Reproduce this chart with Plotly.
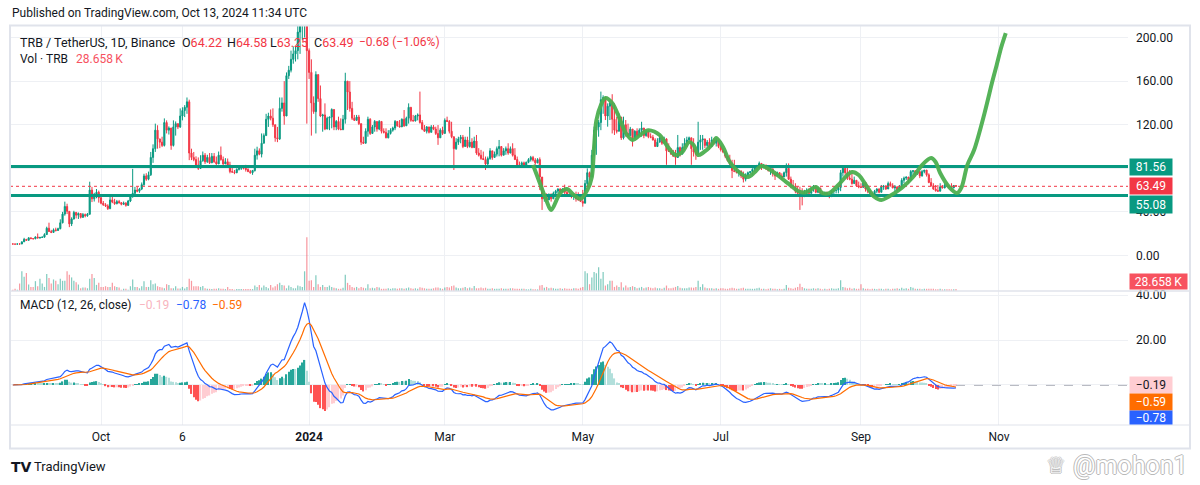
import plotly.graph_objects as go
import pandas as pd

# ---------------- data ----------------
start_date = "2023-08-23"
first_open = 10.6

closes = [
    10.5, 10.4, 10.6, 10.5, 12.5, 14.8, 13.9, 16.2, 15.5, 15.3,
    17.0, 16.0, 16.5, 16.8, 19.2, 25.0, 22.0, 21.2, 23.5, 23.0,
    24.6, 30.0, 38.0, 45.0, 40.5, 29.0, 33.5, 39.5, 37.0, 38.5,
    35.0, 37.5, 36.5, 37.8, 60.0, 52.0, 56.0, 58.0, 53.0, 48.0,
    46.5, 45.5, 43.0, 51.0, 49.0, 47.5, 49.5, 48.5, 47.0, 48.0,
    46.0, 50.0, 54.0, 57.0, 60.0, 59.0, 61.0, 65.0, 73.0, 70.0,
    74.0, 90.0, 98.0, 115.0, 107.0, 104.0, 101.0, 122.0, 115.0, 117.0,
    101.0, 118.0, 121.0, 118.0, 128.0, 133.0, 136.0, 141.0, 94.0, 90.0,
    88.0, 83.0, 80.0, 87.0, 92.0, 86.0, 90.0, 85.0, 91.0, 86.0,
    84.0, 92.0, 88.0, 84.0, 86.0, 83.0, 77.0, 76.5, 76.0, 79.0,
    80.0, 81.0, 80.0, 79.0, 77.0, 76.0, 78.0, 92.0, 96.0, 93.0,
    103.0, 110.0, 125.0, 128.0, 126.0, 120.0, 108.0, 107.0, 135.0, 140.0,
    128.0, 165.0, 170.0, 180.0, 185.0, 188.0, 205.0, 225.0, 245.0, 262.0,
    188.0, 168.0, 140.0, 132.0, 166.0, 144.0, 128.0, 129.0, 116.0, 126.0,
    127.0, 134.0, 118.0, 123.0, 116.0, 115.5, 125.0, 160.0, 150.0, 135.0,
    126.0, 124.0, 127.0, 121.0, 104.0, 103.0, 114.0, 125.0, 112.0, 118.0,
    123.0, 116.0, 123.0, 114.0, 113.0, 108.0, 112.0, 115.0, 117.0, 123.0,
    119.0, 118.0, 125.0, 119.0, 126.0, 136.0, 124.0, 123.5, 128.0, 129.0,
    122.0, 116.0, 114.0, 118.0, 113.0, 118.0, 116.0, 112.0, 108.0, 115.0,
    112.0, 124.0, 123.0, 114.0, 109.0, 98.0, 104.0, 107.0, 108.5, 100.0,
    106.0, 100.0, 104.0, 99.0, 105.0, 94.0, 92.0, 89.0, 88.0, 84.0,
    89.0, 96.0, 90.0, 93.0, 98.0, 100.0, 92.0, 96.0, 98.0, 94.0,
    98.0, 92.0, 88.0, 83.0, 82.0, 85.0, 83.0, 85.5, 88.0, 90.0,
    87.5, 85.0, 88.0, 72.0, 52.0, 55.0, 51.0, 55.0, 52.0, 57.0,
    59.0, 61.0, 58.5, 61.0, 58.0, 56.0, 55.0, 54.0, 56.0, 52.0,
    51.0, 49.5, 48.0, 66.0, 76.0, 72.0, 92.0, 115.0, 118.0, 122.0,
    143.0, 145.0, 128.0, 137.0, 140.0, 125.0, 115.0, 114.0, 127.0, 108.0,
    120.0, 112.0, 110.0, 116.0, 108.0, 114.0, 110.0, 115.0, 117.0, 110.0,
    114.0, 109.0, 108.5, 106.0, 100.0, 104.0, 108.0, 103.0, 107.0, 96.0,
    95.5, 93.0, 91.0, 90.0, 99.0, 93.0, 99.0, 103.0, 106.0, 108.0,
    98.0, 95.0, 93.0, 104.0, 106.0, 107.0, 101.0, 104.0, 100.0, 106.0,
    103.0, 106.0, 100.0, 97.0, 95.0, 91.0, 87.0, 84.0, 78.0, 77.0,
    76.0, 77.5, 73.0, 70.0, 74.0, 76.0, 77.0, 79.0, 80.5, 82.0,
    84.5, 81.0, 83.0, 80.0, 78.0, 79.5, 75.0, 73.0, 76.0, 73.0,
    72.0, 76.0, 80.0, 70.0, 64.0, 63.0, 59.0, 57.0, 55.0, 54.0,
    58.0, 60.0, 57.0, 62.0, 63.0, 58.0, 62.0, 57.0, 56.0, 57.5,
    55.0, 54.0, 59.0, 59.5, 60.0, 62.5, 76.0, 80.0, 76.0, 71.0,
    70.0, 66.0, 69.0, 64.0, 63.0, 62.5, 67.0, 61.0, 59.0, 57.0,
    56.0, 59.0, 61.0, 58.0, 63.0, 63.5, 61.0, 66.0, 64.0, 62.0,
    63.0, 60.0, 63.0, 69.0, 71.0, 72.0, 69.0, 77.0, 77.8, 75.0,
    77.0, 73.0, 77.0, 78.4, 74.0, 67.0, 64.0, 61.0, 59.5, 59.0,
    63.0, 62.0, 64.5, 63.5, 62.5, 62.0, 64.22, 63.49,
]

highs = [
    10.8, 10.7, 10.8, 10.8, 12.8, 16.2, 15.0, 16.6, 16.3, 15.9,
    17.5, 20.2, 17.2, 17.5, 20.4, 26.4, 30.1, 23.5, 24.8, 25.5,
    25.5, 33.2, 40.0, 49.4, 47.5, 39.5, 35.0, 41.0, 40.0, 39.5,
    38.5, 39.0, 38.5, 39.0, 67.7, 63.0, 57.5, 61.0, 59.5, 54.0,
    50.0, 48.0, 47.0, 55.0, 55.0, 52.0, 51.0, 51.0, 49.0, 49.5,
    49.0, 51.0, 56.0, 79.5, 63.0, 63.0, 62.0, 67.0, 75.0, 75.5,
    77.0, 95.0, 102.0, 121.0, 119.5, 107.0, 109.0, 125.8, 124.0, 118.5,
    117.0, 124.0, 123.0, 120.0, 135.0, 136.0, 138.0, 145.0, 143.0, 98.0,
    95.0, 91.0, 90.0, 92.0, 95.4, 94.0, 92.4, 94.0, 94.0, 94.0,
    90.8, 95.4, 100.0, 90.8, 89.3, 89.0, 86.0, 81.7, 78.5, 80.0,
    81.5, 81.5, 83.0, 83.2, 80.0, 78.5, 78.5, 98.0, 99.8, 98.3,
    112.0, 112.0, 130.0, 131.0, 134.0, 135.0, 118.0, 118.0, 145.0, 145.0,
    160.0, 168.0, 174.0, 188.0, 192.0, 192.0, 215.0, 240.0, 262.0, 285.0,
    620.0, 190.0, 180.0, 146.0, 169.0, 155.0, 156.0, 130.0, 139.6, 127.4,
    127.4, 135.0, 133.5, 124.3, 127.4, 125.8, 129.0, 167.7, 159.4, 160.0,
    141.0, 129.0, 129.0, 129.0, 120.0, 109.0, 116.7, 127.4, 126.0, 119.7,
    124.3, 123.0, 124.3, 123.0, 116.7, 116.7, 115.0, 116.7, 118.2, 124.3,
    122.7, 124.3, 125.8, 133.5, 127.4, 139.6, 134.0, 129.0, 129.0, 130.4,
    150.4, 124.3, 119.7, 118.8, 116.7, 119.7, 119.7, 118.2, 119.7, 116.7,
    118.2, 125.8, 127.4, 124.3, 122.7, 109.0, 107.6, 109.0, 110.6, 110.6,
    109.0, 109.0, 118.0, 107.6, 109.0, 110.6, 98.5, 96.9, 95.4, 90.8,
    90.8, 98.5, 95.4, 95.4, 100.0, 106.0, 98.5, 98.5, 100.0, 103.0,
    100.0, 103.0, 98.5, 90.8, 86.2, 86.2, 86.2, 86.2, 89.3, 91.4,
    91.4, 89.3, 89.3, 90.0, 72.0, 57.0, 57.0, 57.0, 57.0, 58.6,
    60.2, 61.7, 61.7, 61.7, 65.0, 61.7, 60.2, 57.1, 57.1, 58.6,
    58.0, 54.0, 60.2, 69.3, 79.9, 77.0, 96.9, 118.2, 121.2, 124.3,
    150.4, 147.0, 144.0, 139.6, 142.7, 148.0, 139.6, 127.4, 130.4, 118.0,
    127.4, 124.3, 121.0, 118.0, 113.6, 115.0, 116.7, 116.7, 122.7, 115.0,
    115.1, 115.0, 112.1, 110.6, 107.6, 107.6, 110.6, 109.0, 109.0, 107.6,
    103.0, 98.5, 96.9, 96.9, 110.6, 100.0, 103.0, 107.6, 109.0, 109.1,
    107.6, 107.6, 100.0, 122.7, 110.6, 110.6, 106.0, 106.0, 107.6, 109.0,
    107.6, 107.6, 106.0, 101.5, 98.5, 95.4, 90.8, 92.4, 87.8, 87.8,
    81.7, 78.5, 78.0, 77.0, 75.4, 77.0, 77.0, 80.1, 81.7, 83.2,
    86.2, 84.7, 84.0, 83.2, 81.7, 80.1, 78.5, 77.0, 77.0, 75.4,
    75.4, 77.0, 84.5, 84.5, 72.4, 69.3, 66.3, 63.2, 63.2, 61.7,
    60.2, 61.7, 61.7, 63.2, 64.7, 61.7, 63.2, 61.7, 58.6, 58.6,
    58.6, 57.0, 60.2, 60.2, 60.2, 63.2, 78.5, 81.7, 80.1, 81.7,
    78.5, 75.4, 72.4, 67.8, 67.8, 66.3, 69.3, 64.7, 64.7, 60.2,
    58.6, 60.2, 61.7, 61.7, 64.7, 64.7, 64.7, 67.8, 67.8, 66.3,
    64.7, 63.2, 64.7, 70.9, 72.4, 72.4, 71.0, 78.5, 78.0, 77.8,
    77.2, 77.0, 78.5, 78.5, 78.4, 75.4, 71.0, 66.3, 64.7, 64.7,
    66.3, 64.7, 66.3, 66.3, 64.7, 66.3, 64.7, 64.58,
]

lows = [
    10.3, 10.2, 10.3, 10.3, 10.5, 12.4, 13.5, 13.8, 15.0, 14.8,
    15.0, 15.8, 15.6, 16.2, 16.5, 18.8, 21.5, 20.5, 20.8, 22.0,
    22.5, 24.0, 29.5, 36.5, 38.0, 26.0, 27.0, 33.0, 34.0, 33.5,
    34.0, 34.5, 35.0, 35.5, 37.5, 49.0, 49.5, 52.5, 48.5, 47.0,
    45.5, 44.5, 41.8, 42.5, 48.0, 46.5, 47.0, 47.5, 46.0, 46.5,
    44.8, 45.5, 49.0, 53.0, 55.5, 58.0, 57.5, 60.0, 64.0, 68.5,
    69.0, 73.0, 85.0, 95.0, 98.0, 98.5, 99.5, 100.0, 112.0, 111.0,
    97.0, 100.0, 110.0, 116.0, 117.0, 124.0, 127.0, 130.0, 87.5, 87.5,
    86.5, 81.5, 78.5, 79.5, 86.0, 84.0, 85.0, 84.0, 86.0, 85.0,
    83.2, 84.0, 87.0, 83.2, 84.0, 81.7, 75.4, 76.0, 74.6, 75.5,
    78.0, 78.5, 79.0, 77.0, 76.5, 75.0, 74.0, 77.0, 88.0, 92.0,
    90.0, 103.0, 110.0, 118.0, 124.0, 118.0, 104.4, 104.0, 106.0, 132.0,
    120.0, 128.0, 162.0, 168.0, 176.0, 178.0, 180.0, 185.0, 198.0, 200.0,
    121.0, 162.0, 110.0, 130.0, 112.0, 141.0, 127.0, 113.6, 115.0, 116.0,
    115.0, 116.7, 115.0, 115.0, 115.0, 115.0, 115.0, 121.0, 133.5, 132.0,
    124.3, 123.5, 124.0, 119.7, 101.5, 102.5, 103.0, 109.0, 110.6, 112.0,
    113.6, 113.6, 115.0, 112.0, 112.0, 107.6, 107.5, 111.0, 113.6, 115.0,
    118.2, 117.5, 118.0, 118.0, 119.0, 121.0, 122.7, 123.0, 123.0, 124.0,
    121.0, 115.0, 113.6, 112.0, 112.0, 113.0, 115.0, 110.6, 101.5, 108.0,
    110.6, 112.0, 122.7, 112.0, 107.6, 78.5, 96.9, 101.5, 103.0, 98.5,
    100.0, 98.5, 99.0, 98.5, 99.0, 92.4, 90.8, 87.8, 87.8, 78.5,
    81.7, 87.8, 87.8, 90.0, 90.8, 91.0, 90.8, 92.0, 92.4, 92.4,
    93.9, 90.8, 87.8, 81.7, 81.7, 81.7, 81.7, 83.2, 84.7, 86.2,
    86.2, 83.2, 84.7, 60.0, 41.8, 49.4, 49.4, 51.0, 49.4, 52.0,
    54.0, 57.0, 57.1, 58.0, 55.5, 54.0, 54.0, 52.5, 51.0, 49.4,
    50.5, 49.4, 44.8, 47.9, 63.0, 69.0, 72.0, 90.8, 92.4, 109.0,
    115.0, 130.0, 124.3, 118.2, 124.3, 112.0, 110.6, 112.0, 115.0, 106.0,
    106.5, 109.0, 109.0, 110.6, 100.0, 107.0, 109.0, 110.0, 109.0, 107.6,
    109.0, 107.6, 107.6, 105.5, 100.0, 99.5, 104.0, 101.5, 103.0, 83.2,
    95.0, 92.4, 90.8, 83.2, 89.5, 90.8, 93.0, 96.9, 100.0, 103.0,
    83.2, 90.8, 87.8, 92.4, 96.9, 97.0, 98.5, 98.5, 96.9, 100.0,
    101.5, 100.0, 98.5, 95.4, 93.9, 89.3, 86.2, 81.7, 71.0, 76.5,
    75.4, 72.4, 71.0, 67.0, 68.0, 72.4, 75.0, 74.0, 77.0, 78.5,
    80.0, 78.5, 80.0, 78.5, 77.0, 74.0, 72.4, 69.3, 72.4, 71.0,
    69.3, 72.4, 72.4, 69.3, 61.7, 61.7, 57.1, 55.5, 41.8, 46.0,
    54.0, 54.0, 55.5, 57.0, 58.6, 57.1, 57.1, 55.5, 55.5, 55.5,
    54.0, 52.5, 54.0, 55.5, 57.0, 57.0, 59.0, 72.4, 74.0, 69.3,
    69.0, 65.0, 66.3, 63.2, 61.7, 62.0, 63.0, 58.6, 57.1, 55.5,
    54.0, 54.0, 57.1, 57.1, 58.0, 60.2, 60.2, 61.0, 63.2, 61.7,
    58.6, 58.6, 60.0, 61.7, 66.3, 69.3, 66.3, 69.0, 74.0, 72.4,
    74.0, 71.0, 72.4, 75.4, 72.4, 66.3, 63.2, 60.2, 58.6, 58.9,
    58.9, 61.7, 61.7, 63.2, 61.7, 60.2, 61.7, 63.25,
]

volumes_k = [
    20, 32, 20, 110, 290, 210, 265, 95, 60, 60,
    145, 70, 180, 110, 60, 250, 190, 110, 170, 150,
    100, 180, 150, 150, 290, 240, 200, 150, 130, 95,
    40, 50, 50, 40, 180, 250, 190, 90, 120, 60,
    60, 70, 60, 60, 120, 70, 60, 50, 20, 32,
    32, 20, 70, 170, 60, 60, 40, 70, 145, 60,
    60, 160, 100, 110, 70, 60, 50, 40, 100, 90,
    40, 40, 70, 36, 36, 60, 36, 60, 180, 150,
    70, 70, 70, 60, 75, 40, 32, 32, 28, 32,
    32, 40, 32, 32, 28, 60, 28, 28, 20, 28,
    28, 28, 28, 28, 28, 28, 28, 80, 60, 90,
    50, 80, 60, 40, 90, 50, 70, 100, 120, 90,
    80, 40, 80, 60, 40, 40, 80, 70, 60, 290,
    790, 150, 160, 60, 230, 100, 60, 88, 60, 60,
    80, 60, 48, 40, 32, 32, 48, 240, 120, 88,
    60, 48, 60, 40, 60, 48, 40, 100, 40, 48,
    40, 60, 52, 32, 32, 32, 40, 32, 40, 40,
    32, 40, 40, 32, 40, 52, 40, 32, 40, 32,
    56, 48, 40, 32, 32, 32, 40, 52, 52, 40,
    32, 52, 60, 52, 72, 80, 52, 40, 40, 48,
    60, 40, 52, 40, 72, 40, 40, 52, 40, 48,
    32, 32, 40, 32, 32, 32, 40, 32, 32, 32,
    40, 40, 32, 32, 32, 32, 32, 24, 24, 32,
    24, 24, 24, 80, 90, 48, 60, 40, 48, 40,
    32, 32, 40, 32, 40, 32, 32, 32, 40, 40,
    32, 48, 60, 290, 260, 100, 200, 280, 260, 350,
    180, 280, 80, 100, 150, 150, 60, 80, 60, 130,
    52, 80, 52, 60, 72, 60, 40, 48, 60, 40,
    52, 60, 48, 40, 52, 40, 40, 32, 48, 80,
    40, 40, 48, 60, 72, 48, 40, 40, 40, 52,
    52, 48, 60, 150, 60, 100, 52, 40, 40, 40,
    32, 40, 32, 40, 40, 32, 32, 40, 48, 40,
    32, 32, 40, 48, 32, 32, 32, 32, 32, 40,
    48, 32, 32, 24, 32, 40, 32, 32, 24, 32,
    24, 32, 88, 48, 40, 32, 48, 60, 108, 60,
    40, 32, 32, 32, 40, 32, 40, 32, 24, 32,
    24, 32, 40, 32, 32, 40, 160, 60, 52, 40,
    48, 32, 40, 32, 32, 100, 40, 32, 32, 24,
    32, 32, 24, 32, 32, 24, 32, 32, 24, 32,
    32, 40, 32, 48, 32, 40, 32, 60, 48, 32,
    32, 32, 24, 32, 32, 32, 32, 32, 24, 24,
    32, 24, 24, 24, 24, 24, 24, 28.658,
]

level_high = 81.56
level_low = 55.08
last_close = 63.49
legend_ohlc = ["64.22", "64.58", "63.25", "63.49"]
legend_change = "\u22120.68 (\u22121.06%)"
legend_vol = "28.658\u2009K"
macd_hist_last = -0.19
macd_line_last = -0.78
macd_signal_last = -0.59

tick_dates = ["2023-10-01", "2023-11-06", "2024-01-01", "2024-03-01",
              "2024-05-01", "2024-07-01", "2024-09-01", "2024-11-01"]
tick_text = ["Oct", "6", "<b>2024</b>", "Mar", "May", "Jul", "Sep", "Nov"]
price_ticks = [0, 40, 80, 120, 160, 200]
macd_ticks = [0, 20, 40]

# hand-drawn projection path (green)
path_dates = [
    "2024-04-09", "2024-04-12", "2024-04-15", "2024-04-17", "2024-04-21",
    "2024-04-24", "2024-04-27", "2024-04-30", "2024-05-03", "2024-05-05",
    "2024-05-06", "2024-05-07", "2024-05-09", "2024-05-11", "2024-05-14",
    "2024-05-17", "2024-05-20", "2024-05-23", "2024-05-26", "2024-05-30",
    "2024-06-04", "2024-06-07", "2024-06-11", "2024-06-14", "2024-06-17",
    "2024-06-19", "2024-06-21", "2024-06-23", "2024-06-27", "2024-06-29",
    "2024-07-02", "2024-07-05", "2024-07-09", "2024-07-13", "2024-07-16",
    "2024-07-19", "2024-07-23", "2024-07-30", "2024-08-05", "2024-08-08",
    "2024-08-12", "2024-08-15", "2024-08-18", "2024-08-22", "2024-08-26",
    "2024-08-28", "2024-08-31", "2024-09-04", "2024-09-07", "2024-09-10",
    "2024-09-13", "2024-09-19", "2024-09-24", "2024-09-28", "2024-10-02",
    "2024-10-04", "2024-10-06", "2024-10-10", "2024-10-13 12:00", "2024-10-15 12:00",
    "2024-10-18", "2024-10-21", "2024-10-25 18:00", "2024-10-29", "2024-10-31",
    "2024-11-01 22:00", "2024-11-04",
]
path_prices = [
    83.0, 66.5, 50.0, 41.7, 57.3,
    61.0, 55.5, 52.0, 60.0, 72.0,
    100.0, 124.0, 138.0, 144.5, 140.0,
    127.0, 112.4, 106.0, 110.0, 115.0,
    110.6, 101.4, 92.2, 95.0, 104.0,
    101.4, 92.2, 94.0, 101.4, 107.8,
    99.5, 85.8, 76.6, 72.0, 76.5,
    82.1, 78.4, 67.4, 58.3, 58.3,
    62.8, 57.3, 57.3, 64.7, 73.9,
    76.6, 73.9, 61.9, 53.7, 50.9,
    53.7, 61.9, 72.0, 83.0, 89.4,
    85.8, 75.7, 62.8, 57.3, 62.8,
    83.0, 96.8, 131.7, 159.2, 174.8,
    190.4, 204.0,
]

# ---------------- styling ----------------
UP = "#089981"
DOWN = "#F23645"
TXT = "#131722"
GRID = "#eef0f4"
FRAME = "#e0e3eb"
FONT = "Roboto"

W, H = 1200, 485
ML, MR, MT, MB = 10, 72, 26, 60
PW = W - ML - MR
PH = H - MT - MB
PANE_SPLIT_PX = 291


def px(x):
    return (x - ML) / PW


def py(y):
    return (H - MB - y) / PH


split = py(PANE_SPLIT_PX)

# ---------------- derived series ----------------
n = min(len(closes), len(highs), len(lows), len(volumes_k))
closes = closes[:n]
dates = pd.date_range(start_date, periods=n, freq="D")
opens = [first_open] + closes[:n - 1]   # crypto daily open = previous daily close
hi = [max(highs[i], opens[i], closes[i]) for i in range(n)]
lo = [min(lows[i], opens[i], closes[i]) for i in range(n)]
vol_colors = ["rgba(8,153,129,0.5)" if closes[i] >= opens[i] else "rgba(242,54,69,0.5)"
              for i in range(n)]

s = pd.Series(closes)
ema_fast = s.ewm(span=12, adjust=False).mean()
ema_slow = s.ewm(span=26, adjust=False).mean()
macd = ema_fast - ema_slow
signal = macd.ewm(span=9, adjust=False).mean()
hist = macd - signal
hist_colors = []
for i in range(n):
    h = hist.iloc[i]
    prev = hist.iloc[i - 1] if i > 0 else h
    if h >= 0:
        hist_colors.append("#26A69A" if h >= prev else "#B2DFDB")
    else:
        hist_colors.append("#FFCDD2" if h > prev else "#FF5252")

t0 = pd.Timestamp(start_date)
x_start = t0 + pd.Timedelta(days=-1.24)
x_end = t0 + pd.Timedelta(days=493.05)
xr = [x_start.strftime("%Y-%m-%d %H:%M"), x_end.strftime("%Y-%m-%d %H:%M")]

price_range = [-32.6, 210.6]
vol_range = [0, 3900]
macd_range = [-17.8, 41.8]

fig = go.Figure()

fig.add_trace(go.Candlestick(
    x=dates, open=opens, high=hi, low=lo, close=closes,
    increasing=dict(line=dict(color=UP, width=1), fillcolor=UP),
    decreasing=dict(line=dict(color=DOWN, width=1), fillcolor=DOWN),
    whiskerwidth=0, xaxis="x", yaxis="y", hoverinfo="skip",
))
# level lines
for lvl in (level_high, level_low):
    fig.add_trace(go.Scatter(x=xr, y=[lvl, lvl], mode="lines",
                             line=dict(color=UP, width=3), xaxis="x", yaxis="y",
                             hoverinfo="skip"))
fig.add_trace(go.Scatter(x=xr, y=[last_close, last_close], mode="lines",
                         line=dict(color=DOWN, width=1, dash="dot"), xaxis="x", yaxis="y",
                         hoverinfo="skip"))
# volume
fig.add_trace(go.Bar(x=dates, y=volumes_k, marker=dict(color=vol_colors, line=dict(width=0)),
                     width=86400000 * 0.55, xaxis="x", yaxis="y2", hoverinfo="skip"))
# projection path
fig.add_trace(go.Scatter(x=path_dates, y=path_prices, mode="lines",
                         line=dict(color="#4CAF50", width=4, shape="spline", smoothing=0.9),
                         opacity=0.95, xaxis="x", yaxis="y3", hoverinfo="skip"))
# MACD pane
fig.add_trace(go.Bar(x=dates, y=hist, marker=dict(color=hist_colors, line=dict(width=0)),
                     width=86400000 * 0.55, xaxis="x2", yaxis="y4", hoverinfo="skip"))
fig.add_trace(go.Scatter(x=dates, y=macd, mode="lines", line=dict(color="#2962FF", width=1.2),
                         xaxis="x2", yaxis="y4", hoverinfo="skip"))
fig.add_trace(go.Scatter(x=dates, y=signal, mode="lines", line=dict(color="#FF6D00", width=1.2),
                         xaxis="x2", yaxis="y4", hoverinfo="skip"))
fig.add_trace(go.Scatter(x=[dates[-1], xr[1]], y=[macd_hist_last, macd_hist_last], mode="lines",
                         line=dict(color="#b2b5be", width=1, dash="dash"),
                         xaxis="x2", yaxis="y4", hoverinfo="skip"))

axis_common = dict(showline=False, zeroline=False, ticks="", fixedrange=True)

fig.update_layout(
    width=W, height=H, margin=dict(l=ML, r=MR, t=MT, b=MB, pad=0),
    paper_bgcolor="white", plot_bgcolor="white", showlegend=False, hovermode=False,
    font=dict(family=FONT, color=TXT, size=12),
    xaxis=dict(domain=[0, 1], anchor="y", type="date", range=xr, tickvals=tick_dates,
               showticklabels=False, showgrid=True, gridcolor=GRID, gridwidth=1,
               rangeslider=dict(visible=False), **axis_common),
    xaxis2=dict(domain=[0, 1], anchor="y4", type="date", range=xr, tickvals=tick_dates,
                ticktext=tick_text, showticklabels=True, showgrid=True, gridcolor=GRID,
                tickfont=dict(size=12, color=TXT, family=FONT), ticklabelstandoff=3,
                **axis_common),
    yaxis=dict(domain=[split, 1], anchor="x", side="right", range=price_range,
               tickvals=price_ticks, tickformat=".2f", showgrid=True, gridcolor=GRID,
               tickfont=dict(size=12, color=TXT), ticklabelstandoff=7, **axis_common),
    yaxis2=dict(domain=[split, 1], anchor="x", overlaying="y", range=vol_range,
                visible=False, fixedrange=True),
    yaxis3=dict(domain=[split, 1], anchor="x", overlaying="y", range=price_range,
                visible=False, fixedrange=True),
    yaxis4=dict(domain=[0, split], anchor="x2", side="right", range=macd_range,
                tickvals=macd_ticks, tickformat=".2f", showgrid=True, gridcolor=GRID,
                tickfont=dict(size=12, color=TXT), ticklabelstandoff=7, **axis_common),
)

shapes = [
    dict(type="rect", xref="paper", yref="paper", x0=px(10), x1=px(1190),
         y0=py(448.5), y1=py(25.5), line=dict(color=FRAME, width=2), layer="above"),
    dict(type="line", xref="paper", yref="paper", x0=px(10), x1=px(1190),
         y0=split, y1=split, line=dict(color=FRAME, width=1.5), layer="above"),
    dict(type="line", xref="paper", yref="paper", x0=px(10), x1=px(1190),
         y0=py(425), y1=py(425), line=dict(color=FRAME, width=1), layer="above"),
]
fig.update_layout(shapes=shapes)

ann = []


def text(x, y, t, size=12, color=TXT, family=FONT):
    ann.append(dict(x=px(x), y=py(y), xref="paper", yref="paper", text=t, showarrow=False,
                    xanchor="left", yanchor="middle",
                    font=dict(size=size, color=color, family=family)))


text(10, 13, "Published on TradingView.com, Oct 13, 2024 11:34 UTC", size=12)
text(18, 42, "TRB / TetherUS, 1D, Binance", size=12.5)
for xpos, letter, val in [(180, "O", legend_ohlc[0]), (225, "H", legend_ohlc[1]),
                          (268, "L", legend_ohlc[2]), (312, "C", legend_ohlc[3])]:
    text(xpos, 42, f"{letter}<span style='color:{DOWN}'>{val}</span>", size=12.5)
text(357, 42, legend_change, size=12, color=DOWN)
text(18, 59, "Vol \u00b7 TRB", size=12)
text(74, 59, legend_vol, size=12, color="#F7525F")
text(18, 305, "MACD (12, 26, close)", size=12)
text(137, 305, f"\u2212{abs(macd_hist_last):.2f}", size=12, color="#F8B4BE")
text(174, 305, f"\u2212{abs(macd_line_last):.2f}", size=12, color="#2962FF")
text(210, 305, f"\u2212{abs(macd_signal_last):.2f}", size=12, color="#FF6D00")

# footer
text(9, 467, "<b>TV</b>", size=14, color=TXT, family="DejaVu Sans")
text(32, 467, "TradingView", size=13)
outline = "1px 0 0 #b9b9b9, -1px 0 0 #b9b9b9, 0 1px 0 #b9b9b9, 0 -1px 0 #b9b9b9"
ann.append(dict(x=px(1071), y=py(465), xref="paper", yref="paper", text="@mohon1",
                showarrow=False, xanchor="left", yanchor="middle",
                font=dict(size=25, color="white", family=FONT, shadow=outline)))
ann.append(dict(x=px(1044), y=py(465), xref="paper", yref="paper", text="\u2655",
                showarrow=False, xanchor="left", yanchor="middle",
                font=dict(size=22, color="white", family="DejaVu Sans", shadow=outline)))


def label(y, yref, t, bg, fg="white", w=42, h=16, yshift=0, yanchor="middle"):
    ann.append(dict(x=px(1129), y=y, xref="paper", yref=yref, text=t, showarrow=False,
                    xanchor="left", yanchor=yanchor, bgcolor=bg, width=w, height=h,
                    borderpad=0, align="center", yshift=yshift,
                    font=dict(size=12, color=fg, family=FONT)))


label(level_high, "y", f"{level_high:.2f}", UP)
label(last_close, "y", f"{last_close:.2f}", DOWN)
label(level_low, "y", f"{level_low:.2f}", UP, h=17, yshift=-9)
label(0, "y2", legend_vol, "#F7525F", w=57, h=15, yanchor="bottom", yshift=1)
label(macd_hist_last, "y4", f"\u2212{abs(macd_hist_last):.2f}", "#FFCDD2", fg=TXT)
label(macd_hist_last, "y4", f"\u2212{abs(macd_signal_last):.2f}", "#FF6D00", yshift=-17)
label(macd_hist_last, "y4", f"\u2212{abs(macd_line_last):.2f}", "#2962FF", h=13, yshift=-32)

fig.update_layout(annotations=ann)
fig.write_html("out.html")
